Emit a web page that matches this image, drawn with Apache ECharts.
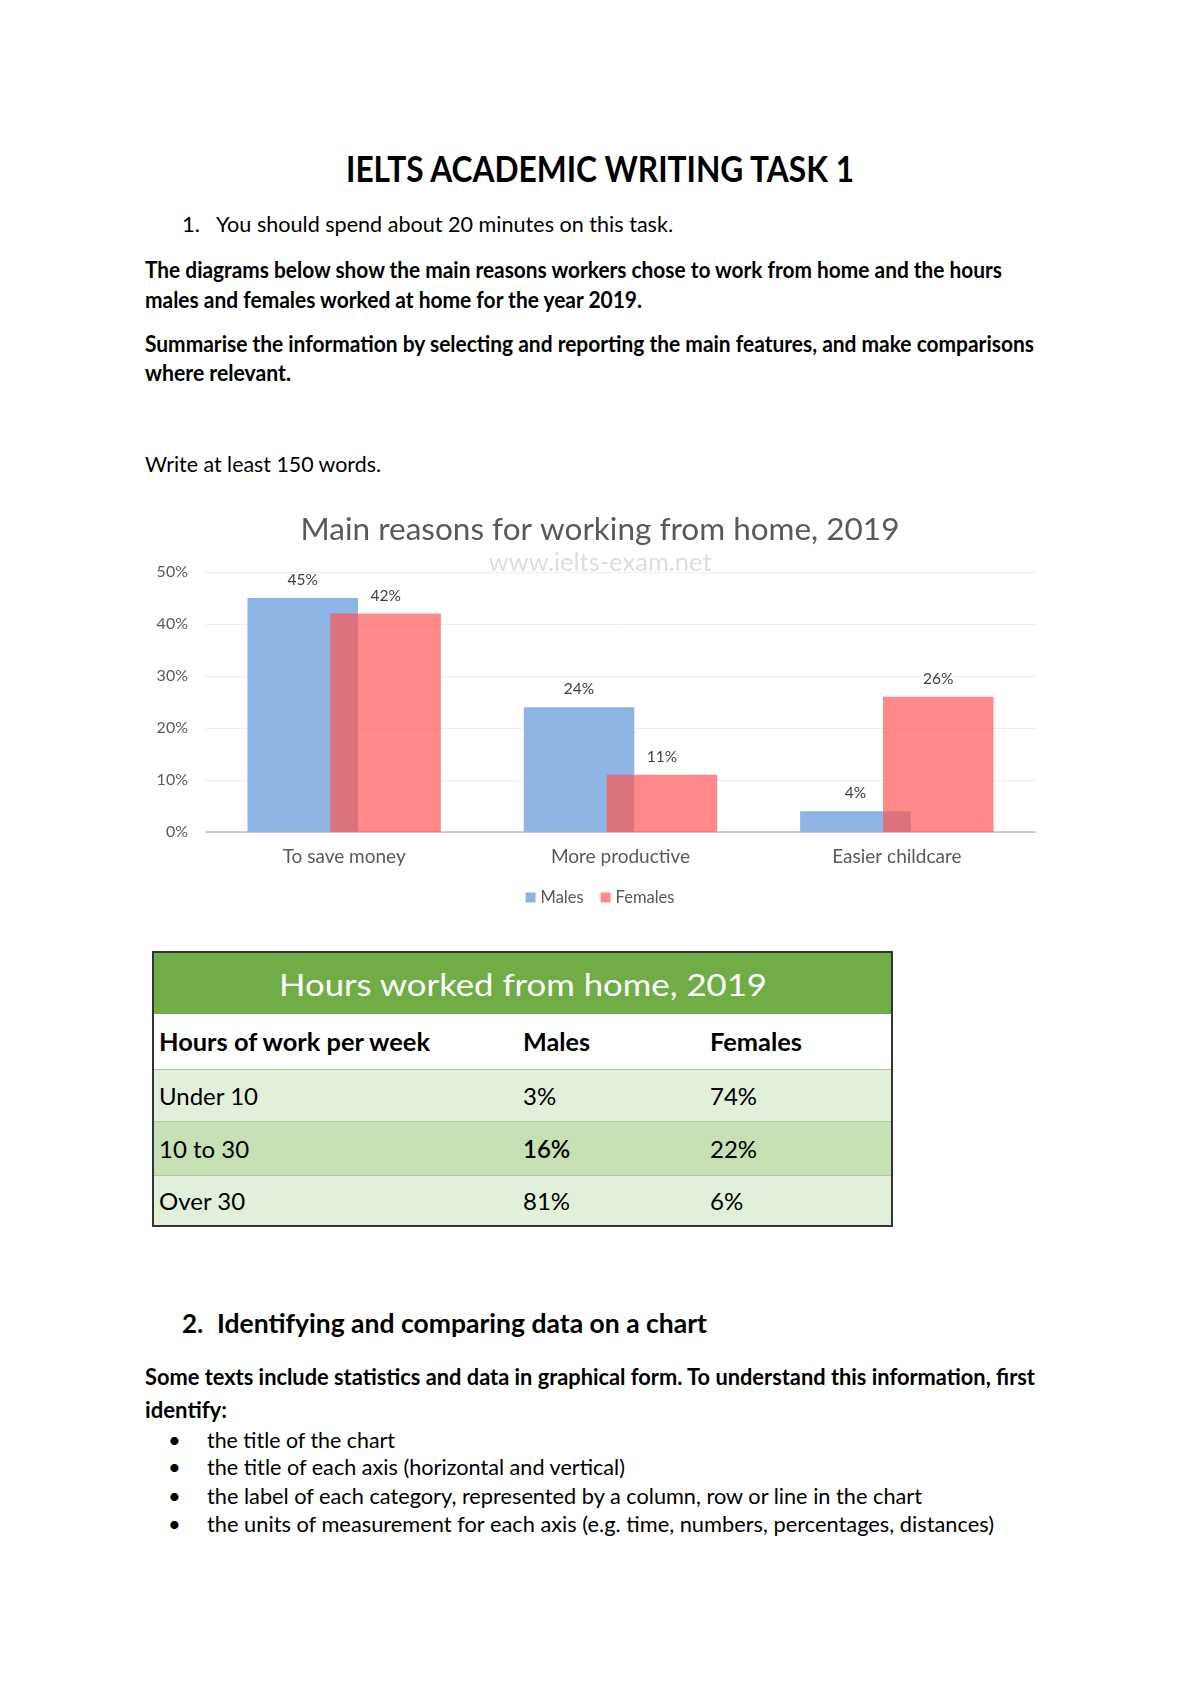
<!DOCTYPE html>
<html>
<head>
<meta charset="utf-8">
<script src="https://cdn.jsdelivr.net/npm/echarts@6/dist/echarts.min.js"></script>
<style>
  html, body { margin: 0; padding: 0; background: #fff; }
  body { width: 1200px; height: 1696px; position: relative; overflow: hidden; font-family: Lato, "Open Sans", sans-serif; color: #000; }
  .t { position: absolute; white-space: nowrap; transform-origin: left center; line-height: 1; }
  .b { font-weight: bold; }
  #chart { position: absolute; left: 0; top: 490px; width: 1200px; height: 440px; }
  #table { position: absolute; left: 152px; top: 951px; width: 741px; height: 276px; box-sizing: border-box; border: 2px solid #333; }
  .row { position: absolute; left: 0; width: 100%; box-sizing: border-box; }
</style>
</head>
<body>
<div id="doc"></div>
<div id="chart"></div>
<div id="table"></div>
<script>
// ---- chart data ----
const categories = ['To save money', 'More productive', 'Easier childcare'];
const malesPct = [45, 24, 4];
const femalesPct = [42, 11, 26];
const yTicks = [0, 10, 20, 30, 40, 50];

// ---- table data ----
const tableHeaders = ['Hours of work per week', 'Males', 'Females'];
const hourBands = ['Under 10', '10 to 30', 'Over 30'];
const malesHours = ['3%', '16%', '81%'];
const femalesHours = ['74%', '22%', '6%'];

// ---- document text ----
const doc = document.getElementById('doc');
function addText(txt, x, yc, size, bold, targetW, color) {
  const d = document.createElement('div');
  d.className = 't' + (bold ? ' b' : '');
  d.textContent = txt;
  d.style.left = x + 'px';
  d.style.top = yc + 'px';
  d.style.fontSize = size + 'px';
  if (color) d.style.color = color;
  d.dataset.w = targetW || 0;
  doc.appendChild(d);
  return d;
}
addText('IELTS ACADEMIC WRITING TASK 1', 346, 168, 36, true, 508);
addText('1.', 182, 224, 22, false, 0);
addText('You should spend about 20 minutes on this task.', 216, 224, 22, false, 457);
addText('The diagrams below show the main reasons workers chose to work from home and the hours', 145, 270, 22, true, 857);
addText('males and females worked at home for the year 2019.', 145, 300, 22, true, 497);
addText('Summarise the information by selecting and reporting the main features, and make comparisons', 145, 344, 22, true, 889);
addText('where relevant.', 145, 373, 22, true, 146);
addText('Write at least 150 words.', 145, 464, 22, false, 236);
addText('2.', 182, 1323, 26, true, 0);
addText('Identifying and comparing data on a chart', 217, 1323, 26, true, 490);
addText('Some texts include statistics and data in graphical form. To understand this information, first', 145, 1377, 22, true, 890);
addText('identify:', 145, 1410, 22, true, 82);
const bullets = [
  ['the title of the chart', 1440, 188],
  ['the title of each axis (horizontal and vertical)', 1467, 418],
  ['the label of each category, represented by a column, row or line in the chart', 1496, 715],
  ['the units of measurement for each axis (e.g. time, numbers, percentages, distances)', 1524, 787]
];
bullets.forEach(b => {
  addText('\u2022', 168, b[1], 22, false, 0);
  addText(b[0], 207, b[1], 22, false, b[2]);
});

// ---- table ----
const table = document.getElementById('table');
const rowTops = [0, 61, 116, 168, 222];   // inside border
const rowBgs = ['#70AD47', '#FFFFFF', '#E2EFDA', '#C6E0B4', '#E2EFDA'];
const colX = [5, 369, 556];
for (let i = 0; i < 5; i++) {
  const r = document.createElement('div');
  r.className = 'row';
  const h = (i < 4 ? rowTops[i + 1] : 272) - rowTops[i];
  r.style.top = rowTops[i] + 'px';
  r.style.height = h + 'px';
  r.style.background = rowBgs[i];
  if (i >= 2) r.style.borderTop = '1px solid #A9D08E';
  table.appendChild(r);
  function cell(txt, x, weight, size, color, w) {
    const c = document.createElement('div');
    c.className = 't';
    c.style.fontWeight = weight;
    c.textContent = txt;
    c.style.left = x + 'px';
    c.style.top = (h / 2) + 'px';
    c.style.fontSize = size + 'px';
    c.style.color = color || '#000';
    c.dataset.w = w || 0;
    r.appendChild(c);
    return c;
  }
  if (i === 0) {
    cell('Hours worked from home, 2019', 125, 'normal', 31, '#FFFFFF', 488);
  } else if (i === 1) {
    cell(tableHeaders[0], colX[0], 'bold', 24, '#000', 271);
    cell(tableHeaders[1], colX[1], 'bold', 24, '#000', 67);
    cell(tableHeaders[2], colX[2], 'bold', 24, '#000', 92);
  } else {
    const k = i - 2;
    cell(hourBands[k], colX[0], 'normal', 24, '#000');
    cell(malesHours[k], colX[1], k === 1 ? '600' : 'normal', 24, '#000');
    cell(femalesHours[k], colX[2], 'normal', 24, '#000');
  }
}

function fitAll() {
  document.querySelectorAll('.t').forEach(el => {
    el.style.transform = 'translateY(-50%)';
    const tw = parseFloat(el.dataset.w || '0');
    if (tw > 0) {
      const w = el.getBoundingClientRect().width;
      const k = tw / w;
      el.style.transform = 'translateY(-50%) scaleX(' + k.toFixed(4) + ')';
    }
  });
}
fitAll();
if (document.fonts && document.fonts.ready) document.fonts.ready.then(fitAll);

// ---- chart ----
const chart = echarts.init(document.getElementById('chart'), null, { renderer: 'canvas' });
const grey = '#595959';
chart.setOption({
  animation: false,
  textStyle: { fontFamily: 'Lato, "Open Sans", sans-serif' },
  title: {
    text: 'Main reasons for working from home, 2019',
    left: 'center',
    top: 19,
    textStyle: { color: grey, fontSize: 31.5, fontWeight: 'normal', fontFamily: 'Lato, sans-serif' }
  },
  graphic: [{
    type: 'text',
    left: 'center',
    top: 60,
    style: { text: 'www.ielts-exam.net', fill: '#DEDEDE', fontSize: 25.5, fontFamily: 'Lato, sans-serif' }
  }],
  legend: {
    data: ['Males', 'Females'],
    bottom: 19,
    left: 'center',
    icon: 'rect',
    itemWidth: 10,
    itemHeight: 10,
    itemGap: 17,
    textStyle: { color: grey, fontSize: 16.5 }
  },
  grid: { left: 206, right: 165, top: 82, bottom: 98 },
  xAxis: {
    type: 'category',
    data: categories,
    axisLine: { lineStyle: { color: '#BFBFBF', width: 1.5 } },
    axisTick: { show: false },
    axisLabel: { color: grey, fontSize: 19, margin: 15 }
  },
  yAxis: {
    type: 'value',
    min: yTicks[0],
    max: yTicks[yTicks.length - 1],
    interval: 10,
    axisLine: { show: false },
    axisTick: { show: false },
    axisLabel: { color: grey, fontSize: 16, margin: 18, formatter: '{value}%' },
    splitLine: { lineStyle: { color: '#EDEDED', width: 1 } }
  },
  series: [
    {
      name: 'Males',
      type: 'bar',
      data: malesPct,
      barWidth: '40%',
      barGap: '-25%',
      itemStyle: { color: '#8DB4E2' },
      label: { show: true, position: 'top', distance: 10, formatter: '{c}%', color: '#404040', fontSize: 15.5 }
    },
    {
      name: 'Females',
      type: 'bar',
      data: femalesPct,
      barWidth: '40%',
      barGap: '-25%',
      itemStyle: { color: 'rgba(255,85,85,0.7)' },
      label: { show: true, position: 'top', distance: 10, formatter: '{c}%', color: '#404040', fontSize: 15.5 }
    }
  ]
});
</script>
</body>
</html>
